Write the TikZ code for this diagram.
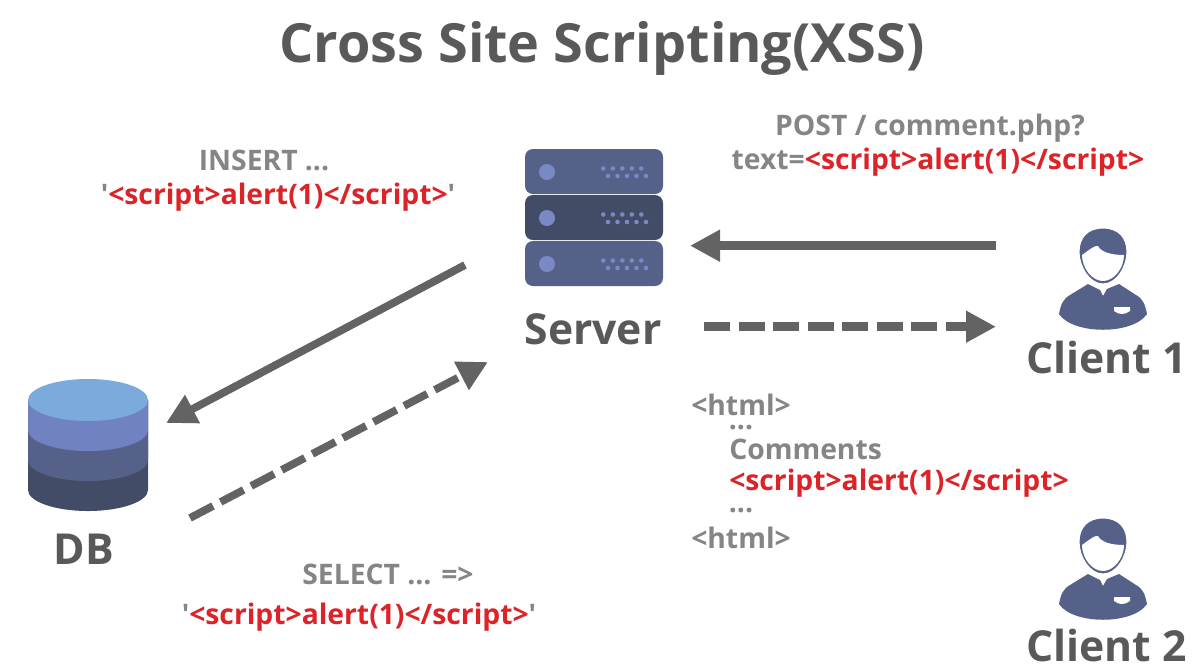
\documentclass[tikz,border=0pt]{standalone}
\usepackage{fontspec}
\setmainfont[Ligatures=TeXOff]{Open Sans}
\usetikzlibrary{arrows.meta}
\definecolor{slate}{HTML}{56618A}
\definecolor{slatedark}{HTML}{434C66}
\definecolor{lilac}{HTML}{7A88C4}
\definecolor{dbmid}{HTML}{7082C2}
\definecolor{skyblue}{HTML}{7AABDC}
\definecolor{ink}{HTML}{595959}
\definecolor{arrowgray}{HTML}{636363}
\definecolor{soft}{HTML}{858585}
\definecolor{alert}{HTML}{DC2328}
\tikzset{
	heading/.style={text=ink,anchor=base,inner sep=0pt,font=\bfseries\fontsize{40.5}{48}\selectfont},
	caption/.style={text=ink,anchor=base,inner sep=0pt,font=\bfseries\fontsize{32}{36}\selectfont},
	code/.style={text=soft,anchor=base,inner sep=0pt,font=\bfseries\fontsize{21.2}{24}\selectfont},
	codedots/.style={code,text height=3pt,text depth=0pt},
	flow/.style={line width=6.6pt,draw=arrowgray,-{Triangle[length=22.5pt,width=22.5pt]}},
	flowdash/.style={flow,dash pattern=on 19.5pt off 6.4pt},
	slanted/.style={line width=5.8pt},
}
\newcommand{\scripttag}{\textcolor{alert}{<script>alert(1)</script>}}
% one client figure, x y of the top of the head
\newcommand{\clienticon}[2]{
	\begin{scope}[shift={(#1,#2)}]
		% Body
		\fill[slate] (-44,86) .. controls (-42,76) and (-40,71) .. (-33,67) -- (-15,56) -- (-3,62) -- (0,68) -- (4,61) -- (16,56) -- (33,67) .. controls (40,71) and (42,76) .. (44,86) .. controls (30,107) and (-30,107) .. (-44,86) -- cycle;
		\fill[white] (11,79) -- (27,79) -- (27,83) .. controls (22,87) and (16,87) .. (11,83) -- cycle;
		% Hair
		\fill[slate,draw=white,line width=0.8pt] (0,0) .. controls (16,0) and (24,10) .. (24,24) .. controls (24,38) and (14,56) .. (0,56) .. controls (-14,56) and (-24,38) .. (-24,24) .. controls (-24,10) and (-16,0) .. (0,0) -- cycle;
		% Face
		\fill[white] (-21,27) .. controls (-14,22) and (-8,17) .. (-5,18) .. controls (-2,24) and (8,27) .. (21,27) .. controls (21,40) and (11,53) .. (0,53) .. controls (-11,53) and (-21,40) .. (-21,27) -- cycle;
	\end{scope}
}
\begin{document}
\begin{tikzpicture}[x=0.75pt,y=-0.75pt]
	\useasboundingbox (0,0) rectangle (1200,669);
	\node[heading] (title) at (602,62) {Cross Site Scripting(XSS)};
	% Server
	\foreach \y/\shade in {149/slate,241/slate,195/slatedark} {
		\fill[\shade,rounded corners=6pt] (525,\y) rectangle (663,\y+45);
		\fill[lilac] (547,\y+23) circle (8);
		\foreach \i in {0,...,4} {
			\fill[lilac] (603.3+9.5*\i,\y+19.5) circle (2.3);
			\fill[lilac] (608+9.5*\i,\y+27) circle (2.3);
		}
	}
	\node[caption] (server) at (593,344) {Server};
	% DB
	\fill[slatedark] (28,400) -- (148,400) -- (148,490) arc (0:180:60 and 21) -- cycle;
	\fill[slate] (28,400) -- (148,400) -- (148,460) arc (0:180:60 and 21) -- cycle;
	\fill[dbmid] (28,400) -- (148,400) -- (148,430) arc (0:180:60 and 21) -- cycle;
	\fill[skyblue] (88,400) ellipse (60 and 21);
	\node[caption] (db) at (84,564.5) {DB};
	% Clients
	\clienticon{1103}{228}
	\clienticon{1103}{518}
	\node[caption] (client1) at (1106.5,373) {Client 1};
	\node[caption] (client2) at (1106.5,661) {Client 2};
	% Arrow ends
	\coordinate (serverin) at (690,245.7);
	\coordinate (clientout) at (996,245.7);
	\coordinate (serverout) at (704,326.7);
	\coordinate (clientin) at (996,326.7);
	\coordinate (dbin) at (166,423);
	\coordinate (storeout) at (465,265);
	\coordinate (dbout) at (190,518);
	\coordinate (readin) at (488,362);
	\draw[flow] (clientout) -- (serverin);
	\draw[flowdash] (serverout) -- (clientin);
	\draw[flow,slanted] (storeout) -- (dbin);
	\draw[flowdash,slanted] (dbout) -- (readin);
	% Labels
	\node[code] (insert) at (264,170) {INSERT ...};
	\node[code] (insertval) at (278,204.5) {'\scripttag'};
	\node[code] (post) at (930,135) {POST / comment.php?};
	\node[code] (postval) at (938,169.5) {text=\scripttag};
	\node[code,anchor=base west] (open) at (691,415) {<html>};
	\node[codedots] (dotsa) at (741,429.5) {...};
	\node[code,anchor=base west] (comments) at (729,459.5) {Comments};
	\node[code,anchor=base west] (stored) at (729,490.5) {\scripttag};
	\node[codedots] (dotsb) at (741,512.5) {...};
	\node[code,anchor=base west] (close) at (691,548) {<html>};
	\node[code] (select) at (388,584) {SELECT ... =>};
	\node[code] (selectval) at (359,624.5) {'\scripttag'};
\end{tikzpicture}
\end{document}
